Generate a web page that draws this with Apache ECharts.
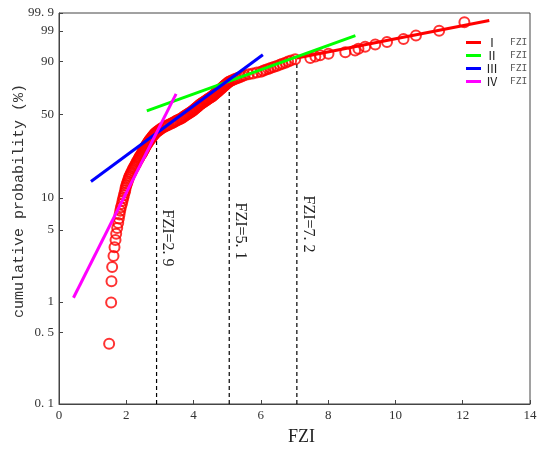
<!DOCTYPE html>
<html><head><meta charset="utf-8">
<script src="https://cdn.jsdelivr.net/npm/echarts@6/dist/echarts.min.js"></script>
<style>html,body{margin:0;padding:0;background:#fff}#c{width:550px;height:454px}</style>
</head><body><div id="c"></div>
<script>
// FZI values (sorted) and their cumulative probabilities (%)
const fzi = [
1.49,1.55,1.56,1.58,1.62,1.65,1.68,1.70,1.73,1.76,1.78,1.80,1.82,1.84,1.87,1.89,
1.91,1.93,1.95,1.97,1.98,2.00,2.02,2.04,2.06,2.08,
2.10,2.13,2.15,2.18,2.20,2.23,2.25,2.28,
2.30,2.32,2.35,2.37,2.39,2.41,2.44,2.46,
2.48,2.50,2.52,2.54,2.55,2.57,2.59,2.61,2.63,2.65,
2.67,2.69,2.71,2.74,2.76,2.78,2.81,2.83,2.85,
2.88,2.92,2.95,2.99,3.02,3.06,
3.11,3.16,3.21,3.26,3.32,
3.37,3.41,3.46,3.50,3.55,3.60,3.64,
3.68,3.71,3.75,3.78,3.82,3.85,3.89,3.92,
3.96,3.98,4.01,4.04,4.06,4.09,4.12,4.14,4.17,4.19,4.22,4.25,
4.28,4.31,4.35,4.38,4.41,4.44,4.48,4.51,4.54,
4.57,4.59,4.62,4.64,4.67,4.70,4.72,4.75,4.77,4.80,4.82,4.85,4.87,4.90,4.92,4.95,4.97,5.00,5.03,5.05,
5.10,5.15,5.21,5.27,5.33,5.39,5.45,
5.52,5.64,5.76,5.88,6.00,
6.07,6.14,6.22,6.29,
6.38,6.47,6.56,
6.64,6.73,6.81,
6.90,7.02,
7.47,7.62,7.76,8.01,8.51,8.80,8.90,9.10,9.40,9.75,10.24,10.61,11.30,12.05
];
const prob = [
0.39,0.99,1.59,2.19,2.80,3.40,4.00,4.60,5.20,5.80,6.41,7.01,7.61,8.21,8.81,9.41,
10.01,10.62,11.22,11.82,12.42,13.02,13.62,14.22,14.83,15.43,
16.03,16.63,17.23,17.83,18.44,19.04,19.64,20.24,
20.84,21.44,22.04,22.65,23.25,23.85,24.45,25.05,
25.65,26.25,26.86,27.46,28.06,28.66,29.26,29.86,30.47,31.07,
31.67,32.27,32.87,33.47,34.07,34.68,35.28,35.88,36.48,
37.08,37.68,38.28,38.89,39.49,40.09,
40.69,41.29,41.89,42.50,43.10,
43.70,44.30,44.90,45.50,46.10,46.71,47.31,
47.91,48.51,49.11,49.71,50.31,50.92,51.52,52.12,
52.72,53.32,53.92,54.53,55.13,55.73,56.33,56.93,57.53,58.13,58.74,59.34,
59.94,60.54,61.14,61.74,62.34,62.95,63.55,64.15,64.75,
65.35,65.95,66.56,67.16,67.76,68.36,68.96,69.56,70.16,70.77,71.37,71.97,72.57,73.17,73.77,74.37,74.98,75.58,76.18,76.78,
77.38,77.98,78.59,79.19,79.79,80.39,80.99,
81.59,82.19,82.80,83.40,84.00,
84.60,85.20,85.80,86.40,
87.01,87.61,88.21,
88.81,89.41,90.01,
90.62,91.22,
91.82,92.42,93.02,93.62,94.22,94.82,95.43,96.03,96.63,97.23,97.83,98.43,99.03,99.63
];
// fitted lines [FZI, probability %]
const lineI = [[7.07, 91.8], [12.79, 99.71]];
const lineII = [[2.61, 53.1], [8.81, 98.4]];
const lineIII = [[0.95, 14.2], [6.06, 93.2]];
const lineIV = [[0.43, 1.10], [3.48, 67.1]];
const seriesNames = ['Ⅰ FZI', 'Ⅱ FZI', 'Ⅲ FZI', 'Ⅳ FZI'];
const romanLabels = ['Ⅰ', 'Ⅱ', 'Ⅲ', 'Ⅳ'];
// cut-off FZI values
const cutX = [2.9, 5.06, 7.07];
const cutTop = [36.9, 75.0, 90.0];
const cutLabels = ['FZI=2. 9', 'FZI=5. 1', 'FZI=7. 2'];
// axis ticks
const yTicks = [0.1, 0.5, 1, 5, 10, 50, 90, 99, 99.9];
const yTickLabels = ['0. 1', '0. 5', '1', '5', '10', '50', '90', '99', '99. 9'];
const xMin = 0, xMax = 14, xStep = 2;
const xName = 'FZI';
const yName = 'cumulative probability (%)';

// Weibull probability scale
const W = p => Math.log(-Math.log(1 - p / 100));
const yMin = W(0.1), yMax = W(99.9);
const yTickW = yTicks.map(W);

const chart = echarts.init(document.getElementById('c'), null, {renderer: 'canvas'});
const colors = ['#ff0000', '#00ff00', '#0000ff', '#ff00ff'];
const fits = [lineI, lineII, lineIII, lineIV];
const serif = '"Liberation Serif", "Times New Roman", serif';

const series = [];
series.push({
  type: 'scatter', name: 'data', symbol: 'circle', symbolSize: 10,
  itemStyle: {color: 'rgba(0,0,0,0)', borderColor: '#ff0000', borderWidth: 2},
  data: fzi.map((v, i) => [v, W(prob[i])]), z: 2, silent: true
});
cutX.forEach((x, i) => {
  series.push({
    type: 'line', name: 'cut' + i, symbol: 'none', silent: true, z: 1,
    lineStyle: {color: '#000', width: 1.2, type: [4, 3]},
    data: [[x, W(0.1)], [x, W(cutTop[i])]]
  });
});
fits.forEach((d, i) => {
  series.push({
    type: 'line', name: seriesNames[i], symbol: 'none', silent: true, z: 3,
    itemStyle: {color: colors[i]},
    lineStyle: {color: colors[i], width: 3},
    data: d.map(p => [p[0], W(p[1])])
  });
});

chart.setOption({
  animation: false,
  backgroundColor: '#fff',
  grid: {left: 59, right: 20, top: 13, bottom: 50, show: true, borderColor: '#444', borderWidth: 1, backgroundColor: 'transparent'},
  xAxis: {
    type: 'value', min: xMin, max: xMax, interval: xStep,
    name: xName, nameLocation: 'middle', nameGap: 24,
    nameTextStyle: {fontFamily: serif, fontSize: 18, color: '#222', padding: [0, 0, 0, 14]},
    axisLine: {onZero: false, lineStyle: {color: '#444'}},
    axisTick: {inside: true, length: 4, lineStyle: {color: '#444'}},
    axisLabel: {fontFamily: serif, fontSize: 13, color: '#333', margin: 5},
    splitLine: {show: false}
  },
  yAxis: {
    type: 'value', min: yMin, max: yMax,
    axisLine: {show: true, onZero: false, lineStyle: {color: '#444'}},
    axisTick: {show: true, inside: true, length: 4, customValues: yTickW, lineStyle: {color: '#444'}},
    axisLabel: {
      fontFamily: serif, fontSize: 13, color: '#333', margin: 5,
      customValues: yTickW,
      formatter: v => {
        let best = 0, bd = 1e9;
        yTickW.forEach((w, i) => { const d = Math.abs(w - v); if (d < bd) { bd = d; best = i; } });
        return yTickLabels[best];
      }
    },
    splitLine: {show: false}
  },
  legend: {
    data: seriesNames.map(n => ({name: n, icon: 'rect'})),
    orient: 'vertical', left: 461, top: 31, itemWidth: 15, itemHeight: 3, itemGap: 0,
    selectedMode: false,
    formatter: name => '{a|' + romanLabels[seriesNames.indexOf(name)] + '}{b|FZI}',
    textStyle: {
      lineHeight: 13,
      rich: {
        a: {fontFamily: '"Noto Sans CJK SC", serif', fontSize: 12, color: '#222', width: 24, lineHeight: 13},
        b: {fontFamily: '"DejaVu Sans Mono", monospace', fontSize: 9.5, color: '#555', lineHeight: 13}
      }
    }
  },
  series: series
});

// annotations
const labelY = [238, 231, 224];
const graphics = cutX.map((x, i) => {
  const px = chart.convertToPixel({gridIndex: 0}, [x, 0])[0];
  return {
    type: 'text', x: px + 11, y: labelY[i], rotation: -Math.PI / 2, silent: true,
    style: {text: cutLabels[i], font: '16px ' + serif, fill: '#222',
      align: 'center', verticalAlign: 'middle', textAlign: 'center', textVerticalAlign: 'middle'}
  };
});
graphics.push({
  type: 'text', x: 19, y: 201, rotation: Math.PI / 2, silent: true,
  style: {text: yName, font: '15px "Liberation Mono", monospace', fill: '#333',
    align: 'center', verticalAlign: 'middle', textAlign: 'center', textVerticalAlign: 'middle'}
});
chart.setOption({graphic: graphics});
</script>
</body></html>
